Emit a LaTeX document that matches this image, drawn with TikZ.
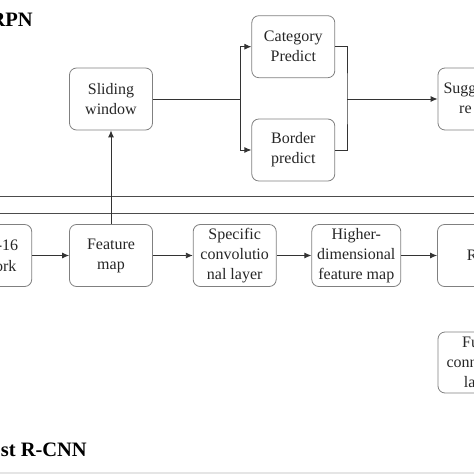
\documentclass[tikz,border=0pt]{standalone}
\usepackage{fontspec}
\setmainfont{Liberation Serif}
\usetikzlibrary{arrows.meta}

\begin{document}
\begin{tikzpicture}[x=1pt, y=-1pt,
  box/.style={draw=black!50, rounded corners=7pt, line width=0.8pt,
    minimum width=83pt, minimum height=62pt, align=center, inner sep=2pt,
    text=black!85, font=\fontsize{16}{20}\selectfont},
  word/.style={inner sep=0pt, text=black!85, font=\fontsize{16}{20}\selectfont},
  title/.style={inner sep=0pt, font=\fontsize{20.5}{24}\selectfont\bfseries},
  conn/.style={draw=black!80, line width=0.9pt},
  arr/.style={conn, -{Latex[length=7pt,width=6pt]}},
  rail/.style={draw=black!70, line width=1.3pt}]
  \useasboundingbox (0,0) rectangle (474,474);
  \clip (0,0) rectangle (474,474);
  \fill[black!10] (0,471.5) rectangle (474,474);

  \node[title, anchor=base east] (rpn) at (33,26.7) {RPN};
  \node[title, anchor=base east] (frcnn) at (87,456.7) {st R-CNN};

  % separating rails
  \draw[rail] (0,196.5) -- (474,196.5);
  \draw[rail] (0,213.3) -- (474,213.3);

  % RPN branch
  \node[box] (sw) at (111,99) {Sliding\\window};
  \node[box] (cat) at (293.3,46.7) {Category\\Predict};
  \node[box] (bor) at (293.3,150) {Border\\predict};
  \node[box] (sug) at (479.5,99) {};
  \node[word, anchor=base west] (sugtop) at (443.3,93.3) {Sugg};
  \node[word, anchor=base west] (sugbot) at (459,113.3) {re};

  % main row
  \node[box] (vgg) at (-9.8,255.5) {};
  \node[word, anchor=base east] (vggtop) at (18.3,250) {-16};
  \node[word, anchor=base east] (vggbot) at (16.7,271.5) {ork};
  \node[box] (fm) at (111,255.5) {Feature\\map};
  \node[box] (spec) at (234.7,255.5) {Specific\\convolutio\\nal layer};
  \node[box, minimum width=89pt] (high) at (356.3,255.5) {Higher-\\dimensional\\feature map};
  \node[box] (roi) at (479,255.5) {};
  \node[word, anchor=base west] (roitxt) at (466.7,260.5) {R};

  % fully connected
  \node[box, minimum height=61pt] (fc) at (479.5,362.5) {};
  \node[word, anchor=base west] (fctop) at (462,347) {Fu};
  \node[word, anchor=base west] (fcmid) at (446.3,367) {conn};
  \node[word, anchor=base west] (fcbot) at (463.7,387) {la};

  \draw[arr] (vgg) -- (fm);
  \draw[arr] (fm) -- (spec);
  \draw[arr] (spec) -- (high);
  \draw[arr] (high) -- (roi);
  \draw[arr] (fm) -- (sw);

  \coordinate (split) at (240,99);
  \coordinate (merge) at (347,99);
  \draw[conn] (sw) -- (split);
  \draw[arr] (split) |- (cat);
  \draw[arr] (split) |- (bor);
  \draw[conn] (cat) -| (merge) |- (bor);
  \draw[arr] (merge) -- (sug);
\end{tikzpicture}
\end{document}
